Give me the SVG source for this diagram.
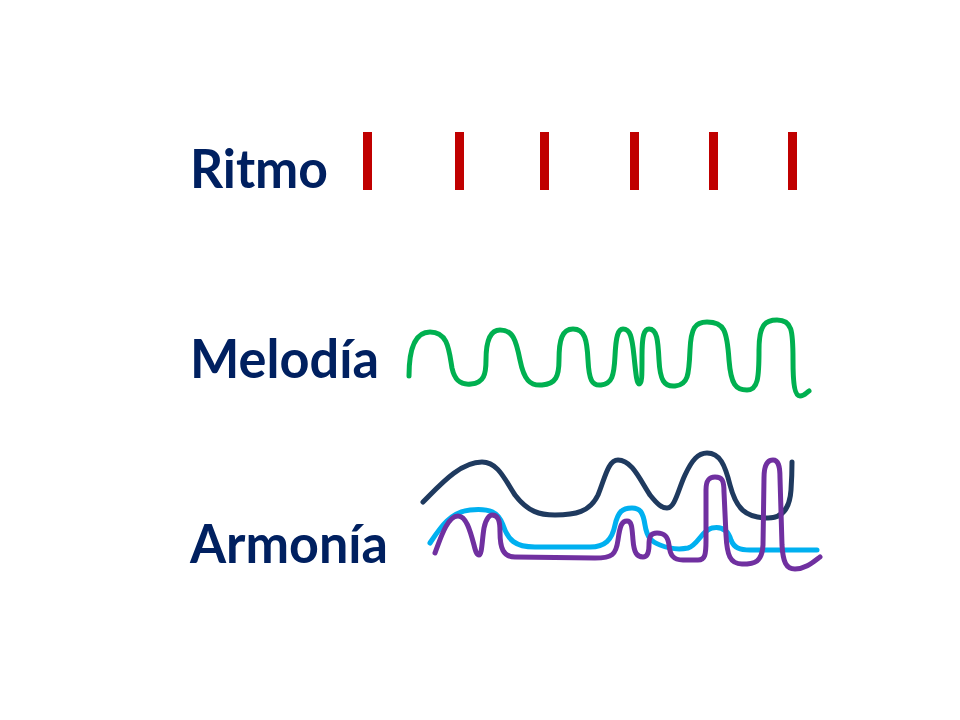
<svg xmlns="http://www.w3.org/2000/svg" width="960" height="720" viewBox="0 0 960 720">
<style>
.lbl{font-family:Lato,"Open Sans","Liberation Sans",sans-serif;font-weight:700;font-size:54px;fill:#002060}
.beat{fill:#C00000}
.wave{fill:none;stroke-width:5;stroke-linecap:round;stroke-linejoin:round}
</style>
<rect width="960" height="720" fill="#FFFFFF"/>
<g id="ritmo">
<text class="lbl" x="190" y="188" textLength="138" lengthAdjust="spacingAndGlyphs">Ritmo</text>
<rect class="beat" x="363" y="132" width="9" height="58"/>
<rect class="beat" x="455" y="132" width="9" height="58"/>
<rect class="beat" x="540" y="132" width="9" height="58"/>
<rect class="beat" x="630" y="132" width="9" height="58"/>
<rect class="beat" x="709" y="132" width="9" height="58"/>
<rect class="beat" x="788" y="132" width="9" height="58"/>
</g>
<g id="melodia">
<text class="lbl" x="190" y="378" textLength="189" lengthAdjust="spacingAndGlyphs">Melodía</text>
<path class="wave" stroke="#00B050" d="M409,376 C409,350 415,332 430,332 C448,332 449,350 452,368 C455,382 462,385 471,384 C484,383 486,374 486,360 C486,340 490,330 500,330 C513,330 516,340 520,360 C524,380 530,386 542,385 C556,384 559,376 559,360 C559,340 562,329 573,329 C585,329 587,340 588,360 C589,380 592,386 601,385 C612,384 614,376 615,356 C616,336 618,329 623,329 C630,329 632,336 634,356 C636,376 637,384 639,384 C642,384 642,376 642,356 C642,336 644,329 649,329 C657,329 658,340 659,360 C660,380 664,387 675,386 C688,385 689,375 690,350 C691,328 695,322 707,322 C724,322 727,330 729,360 C731,385 736,390 747,390 C758,390 759,378 759,350 C759,325 765,320 777,320 C792,320 793,330 793,360 C793,385 795,396 800,396 C804,396 806,393 809,391"/>
</g>
<g id="armonia">
<text class="lbl" x="190" y="563" textLength="198" lengthAdjust="spacingAndGlyphs">Armonía</text>
<path class="wave" stroke="#1F3A5F" d="M423,502 C440,485 460,462 482,462 C498,462 505,480 515,495 C528,512 540,515 555,515 C575,515 590,512 598,495 C605,478 608,460 618,460 C632,460 640,480 650,495 C658,505 662,508 667,508 C675,508 678,490 685,475 C692,460 698,453 707,453 C720,453 725,465 730,485 C736,508 745,518 768,518 C785,518 790,505 791,490 C792,475 792,468 792,462"/>
<path class="wave" stroke="#00B0F0" d="M430,543 C440,528 450,512 470,510 C490,508 498,512 503,525 C508,540 515,547 535,547 L590,547 C605,547 612,540 615,525 C618,512 622,508 632,508 C640,508 643,512 645,525 C647,538 652,542 660,545 C670,549 678,550 688,548 C698,545 702,530 712,528 C722,526 728,530 731,540 C734,548 740,550 750,550 L817,550"/>
<path class="wave" stroke="#7030A0" d="M435,553 C440,540 447,516 458,516 C466,516 470,530 474,545 C476,553 477,555 479,555 C482,555 482,540 484,528 C486,518 490,515 492,515 C498,515 500,520 500,532 C500,548 503,557 515,557 L595,558 C612,558 616,555 618,540 C620,525 622,521 627,521 C632,521 632,528 633,540 C634,553 637,557 643,557 C648,557 649,552 649,545 C649,536 651,533 657,533 C665,533 668,537 669,545 C670,555 673,560 683,560 L698,560 C705,560 706,555 706,540 L706,490 C706,480 709,477 715,477 C722,477 724,480 724,492 L726,535 C727,555 730,564 742,564 C755,564 762,562 763,545 L764,478 C764,465 768,460 773,460 C778,460 780,465 780,478 L782,545 C783,562 786,569 795,569 C805,569 812,563 820,557"/>
</g>
</svg>
